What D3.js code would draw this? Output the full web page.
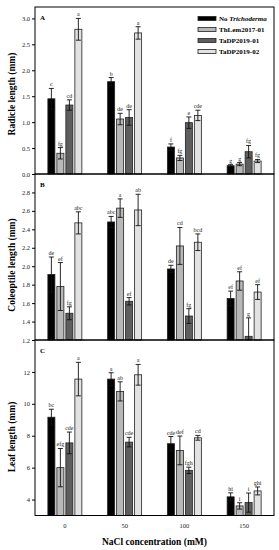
<!DOCTYPE html>
<html lang="en">
	<head>
		<meta charset="UTF-8" />
		<script src="https://d3js.org/d3.v7.min.js"></script>
		<title>NaCl seedling growth</title>
		<style>
			body { margin: 0; background: #fff; }
			text { font-family: "Liberation Serif", "Times New Roman", serif; }
		</style>
	</head>
	<body>
		<script>
			var w = 279;
			var h = 550;

			var concentrations = ["0", "50", "100", "150"];
			var treatments = ["No Trichoderma", "ThLem2017-01", "TaDP2019-01", "TaDP2019-02"];
			var fills = ["#000000", "#b8b8b8", "#5e5e5e", "#e2e2e2"];

			// values are [treatment][concentration]
			var radicleMean = [
				[1.45, 1.78, 0.52, 0.16],
				[0.40, 1.06, 0.31, 0.19],
				[1.33, 1.09, 0.99, 0.43],
				[2.79, 2.72, 1.13, 0.25]
			];
			var radicleErr = [
				[0.20, 0.08, 0.06, 0.02],
				[0.11, 0.11, 0.05, 0.03],
				[0.10, 0.15, 0.11, 0.12],
				[0.21, 0.12, 0.10, 0.03]
			];
			var radicleLetters = [
				["c", "b", "f", "g"],
				["fg", "de", "fg", "g"],
				["cd", "de", "e", "fg"],
				["a", "a", "cde", "fg"]
			];

			var coleoptileMean = [
				[1.91, 2.48, 1.97, 1.65],
				[1.78, 2.63, 2.22, 1.84],
				[1.49, 1.62, 1.46, 1.24],
				[2.47, 2.61, 2.26, 1.72]
			];
			var coleoptileErr = [
				[0.19, 0.06, 0.04, 0.08],
				[0.26, 0.10, 0.20, 0.10],
				[0.07, 0.04, 0.08, 0.20],
				[0.12, 0.17, 0.09, 0.08]
			];
			var coleoptileLetters = [
				["de", "abc", "de", "ef"],
				["ef", "a", "cd", "ef"],
				["fg", "ef", "fg", "g"],
				["abc", "ab", "bcd", "ef"]
			];

			var leafMean = [
				[9.16, 11.55, 7.50, 4.17],
				[6.00, 10.78, 7.08, 3.60],
				[7.55, 7.60, 5.83, 3.81],
				[11.55, 11.82, 7.87, 4.54]
			];
			var leafErr = [
				[0.50, 0.40, 0.45, 0.25],
				[1.20, 0.60, 0.90, 0.20],
				[0.68, 0.30, 0.20, 0.60],
				[1.05, 0.65, 0.15, 0.25]
			];
			var leafLetters = [
				["bc", "a", "cde", "hi"],
				["efg", "ab", "def", "i"],
				["cde", "cde", "fgh", "i"],
				["a", "a", "cd", "ghi"]
			];

			var panels = [
				{ tag: "A", title: "Radicle length (mm)", top: 7, bottom: 174, domain: [0, 3.22],
					ticks: [0, 0.5, 1.0, 1.5, 2.0, 2.5, 3.0], fmt: ".1f", titleY: 94,
					mean: radicleMean, err: radicleErr, letters: radicleLetters },
				{ tag: "B", title: "Coleoptile length (mm)", top: 174, bottom: 340, domain: [1.2, 3.0],
					ticks: [1.2, 1.4, 1.6, 1.8, 2.0, 2.2, 2.4, 2.6, 2.8], fmt: ".1f", titleY: 265,
					mean: coleoptileMean, err: coleoptileErr, letters: coleoptileLetters },
				{ tag: "C", title: "Leaf length (mm)", top: 340, bottom: 515.5, domain: [3, 14],
					ticks: [4, 6, 8, 10, 12], fmt: "d", titleY: 437,
					mean: leafMean, err: leafErr, letters: leafLetters }
			];

			var left = 35;
			var right = 274;

			var svg = d3.select("body")
				.append("svg")
				.attr("width", w)
				.attr("height", h);

			var xScale = d3.scaleBand()
				.domain(concentrations)
				.range([left, right]);

			var subScale = d3.scaleBand()
				.domain(d3.range(treatments.length))
				.range([-17, 17])
				.paddingInner(0.22);

			panels.forEach(function (p) {
				var yScale = d3.scaleLinear()
					.domain(p.domain)
					.range([p.bottom, p.top]);

				var g = svg.append("g");

				// flatten rows for binding
				var rows = [];
				p.mean.forEach(function (series, t) {
					series.forEach(function (v, c) {
						rows.push({ t: t, c: concentrations[c], v: v, e: p.err[t][c], l: p.letters[t][c] });
					});
				});

				g.selectAll("rect.bar")
					.data(rows)
					.enter()
					.append("rect")
					.attr("class", "bar")
					.attr("x", function (d) {
						return xScale(d.c) + xScale.bandwidth() / 2 + subScale(d.t);
					})
					.attr("y", function (d) {
						return yScale(d.v);
					})
					.attr("width", subScale.bandwidth())
					.attr("height", function (d) {
						return p.bottom - yScale(d.v);
					})
					.attr("fill", function (d) {
						return fills[d.t];
					})
					.attr("stroke", "#222")
					.attr("stroke-width", 0.8);

				var cx = function (d) {
					return xScale(d.c) + xScale.bandwidth() / 2 + subScale(d.t) + subScale.bandwidth() / 2;
				};

				//error bars
				var eb = g.selectAll("g.err")
					.data(rows)
					.enter()
					.append("g")
					.attr("class", "err")
					.attr("stroke", "#111")
					.attr("stroke-width", 0.9);

				eb.append("line")
					.attr("x1", cx)
					.attr("x2", cx)
					.attr("y1", function (d) {
						return Math.min(p.bottom, yScale(d.v - d.e));
					})
					.attr("y2", function (d) {
						return yScale(d.v + d.e);
					});

				eb.append("line")
					.attr("x1", function (d) { return cx(d) - 2.5; })
					.attr("x2", function (d) { return cx(d) + 2.5; })
					.attr("y1", function (d) { return yScale(d.v + d.e); })
					.attr("y2", function (d) { return yScale(d.v + d.e); });

				eb.filter(function (d) { return yScale(d.v - d.e) < p.bottom; })
					.append("line")
					.attr("x1", function (d) { return cx(d) - 2.5; })
					.attr("x2", function (d) { return cx(d) + 2.5; })
					.attr("y1", function (d) { return yScale(d.v - d.e); })
					.attr("y2", function (d) { return yScale(d.v - d.e); });

				g.selectAll("text.sig")
					.data(rows)
					.enter()
					.append("text")
					.attr("class", "sig")
					.attr("x", cx)
					.attr("y", function (d) {
						return yScale(d.v + d.e) - 2;
					})
					.attr("text-anchor", "middle")
					.attr("font-size", "6px")
					.attr("fill", "#222")
					.text(function (d) {
						return d.l;
					});

				// frame
				g.append("rect")
					.attr("x", left)
					.attr("y", p.top)
					.attr("width", right - left)
					.attr("height", p.bottom - p.top)
					.attr("fill", "none")
					.attr("stroke", "#000")
					.attr("stroke-width", 1);

				var yAxis = d3.axisLeft(yScale)
					.tickValues(p.ticks)
					.tickSize(3)
					.tickPadding(2)
					.tickFormat(d3.format(p.fmt));

				var ax = g.append("g")
					.attr("transform", "translate(" + left + ",0)")
					.call(yAxis);
				ax.select(".domain").remove();
				ax.selectAll("text")
					.attr("font-size", "6.5px")
					.attr("font-family", "Liberation Serif, serif")
					.attr("fill", "#222");

				g.append("text")
					.attr("x", left + 5)
					.attr("y", p.top + 13)
					.attr("font-size", "7px")
					.attr("font-weight", "bold")
					.text(p.tag);

				g.append("text")
					.attr("transform", "translate(15," + p.titleY + ") rotate(-90)")
					.attr("text-anchor", "middle")
					.attr("font-size", "9.5px")
					.attr("font-weight", "bold")
					.text(p.title);
			});

			var xAxis = d3.axisBottom(xScale)
				.tickSize(0)
				.tickPadding(8);

			var xg = svg.append("g")
				.attr("transform", "translate(0," + 515.5 + ")")
				.call(xAxis);
			xg.select(".domain").remove();
			xg.selectAll("text")
				.attr("font-size", "6.5px")
				.attr("font-family", "Liberation Serif, serif")
				.attr("fill", "#222");

			svg.append("text")
				.attr("x", (left + right) / 2)
				.attr("y", 545)
				.attr("text-anchor", "middle")
				.attr("font-size", "9.5px")
				.attr("font-weight", "bold")
				.text("NaCl concentration (mM)");

			// legend
			var legend = svg.append("g")
				.selectAll("g")
				.data(treatments)
				.enter()
				.append("g")
				.attr("transform", function (d, i) {
					return "translate(198," + (16.5 + i * 11) + ")";
				});

			legend.append("rect")
				.attr("width", 18)
				.attr("height", 4)
				.attr("fill", function (d, i) {
					return fills[i];
				})
				.attr("stroke", "#222")
				.attr("stroke-width", 0.8);

			var lt = legend.append("text")
				.attr("x", 21)
				.attr("y", 4.5)
				.attr("font-size", "7px")
				.attr("font-weight", "bold");

			lt.each(function (d) {
				var t = d3.select(this);
				if (d === "No Trichoderma") {
					t.append("tspan").text("No ");
					t.append("tspan").attr("font-style", "italic").text("Trichoderma");
				} else {
					t.text(d);
				}
			});
		</script>
	</body>
</html>
